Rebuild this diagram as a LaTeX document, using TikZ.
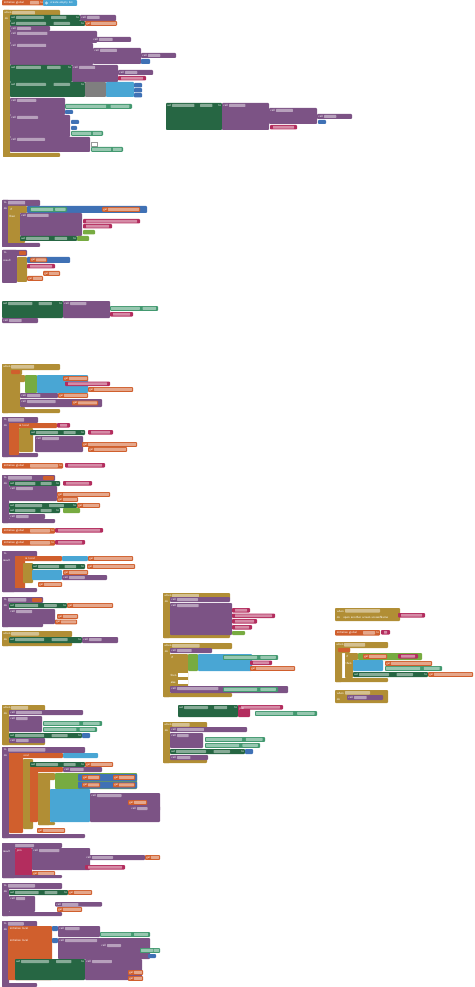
\documentclass[tikz,border=0pt]{standalone}
\usetikzlibrary{positioning}
\definecolor{cevt}{HTML}{B18E35}
\definecolor{cprc}{HTML}{7C5385}
\definecolor{cset}{HTML}{266643}
\definecolor{ccmp}{HTML}{439970}
\definecolor{cvar}{HTML}{D05F2D}
\definecolor{ctxt}{HTML}{B32D5E}
\definecolor{clst}{HTML}{49A6D4}
\definecolor{cmth}{HTML}{3F71B5}
\definecolor{clgc}{HTML}{77AB41}
\definecolor{cgry}{HTML}{7F7F7F}
\tikzset{
  every picture/.style={font=\sffamily},
  evt/.style={fill=cevt, rounded corners=0.6},
  prc/.style={fill=cprc, rounded corners=0.6},
  stt/.style={fill=cset, rounded corners=0.6},
  cmp/.style={fill=ccmp, rounded corners=0.6},
  vr/.style={fill=cvar, rounded corners=0.6},
  txt/.style={fill=ctxt, rounded corners=0.6},
  lst/.style={fill=clst, rounded corners=0.6},
  mth/.style={fill=cmth, rounded corners=0.6},
  lgc/.style={fill=clgc, rounded corners=0.6},
  gry/.style={fill=cgry, rounded corners=0.6},
  fld/.style={fill=white, fill opacity=0.45, rounded corners=0.4},
  kwd/.style={text=white, font=\fontsize{2.3}{2.5}\selectfont\sffamily, inner sep=0pt, anchor=west},
}
\newcounter{kwc}
\newcommand\kw[3]{\stepcounter{kwc}\node[kwd] (kw\arabic{kwc}) at (#1,#2) {#3};}
\newcommand\bk[5]{\fill[#1] (#2,#3) rectangle ++(#4,#5);}
% when ... do
\newcommand\evb[4]{%
  \fill[evt] (#1,#2) rectangle ++(#3,6);
  \fill[evt] (#1,#2) rectangle ++(7,#4);
  \fill[evt] (#1,#2+#4-4) rectangle ++(#3,4);
  \fill[fld] (#1+9,#2+1) rectangle ++(0.4*#3,3.5);
  \kw{#1+1.2}{#2+2.8}{when}\kw{#1+1.5}{#2+8.5}{do}}
% to ... do
\newcommand\prb[4]{%
  \fill[prc] (#1,#2) rectangle ++(#3,6);
  \fill[prc] (#1,#2) rectangle ++(7,#4);
  \fill[prc] (#1,#2+#4-4) rectangle ++(#3,4);
  \fill[fld] (#1+6,#2+1) rectangle ++(0.45*#3,3.5);
  \kw{#1+1.5}{#2+2.8}{to}\kw{#1+1.5}{#2+8.5}{do}}
\newcommand\callb[4]{\fill[prc] (#1,#2) rectangle ++(#3,#4);
  \fill[fld] (#1+7,#2+1) rectangle ++(0.35*#3,3);\kw{#1+1.2}{#2+2.6}{call}}
\newcommand\setb[4]{\fill[stt] (#1,#2) rectangle ++(#3,#4);
  \fill[fld] (#1+6,#2+1) rectangle ++(0.4*#3,3);
  \fill[fld] (#1+0.5*#3+6,#2+1) rectangle ++(0.22*#3,3);
  \kw{#1+1.2}{#2+2.6}{set}\kw{#1+#3-4}{#2+2.6}{to}}
\newcommand\getb[3]{\fill[vr] (#1,#2) rectangle ++(#3,4.8);
  \fill[fld] (#1+6,#2+0.9) rectangle ++(#3-7,3);\kw{#1+1}{#2+2.5}{get}}
\newcommand\cmpb[3]{\fill[cmp] (#1,#2) rectangle ++(#3,4.8);
  \fill[fld] (#1+1,#2+0.9) rectangle ++(0.6*#3,3);
  \fill[fld] (#1+0.68*#3,#2+0.9) rectangle ++(0.28*#3,3);}
\newcommand\txtb[3]{\fill[txt] (#1,#2) rectangle ++(#3,4.5);
  \fill[fld] (#1+3,#2+0.8) rectangle ++(#3-6,2.9);}
\newcommand\glb[3]{\fill[vr] (#1,#2) rectangle ++(#3,5.5);
  \kw{#1+1.5}{#2+2.8}{initialize global}
  \fill[fld] (#1+28,#2+1) rectangle ++(#3-33,3.5);\kw{#1+#3-4}{#2+2.8}{to}}

\begin{document}
\begin{tikzpicture}[x=0.75pt, y=-0.75pt]
\useasboundingbox (0,0) rectangle (474,987);

% global list and screen initialize
\glb{2}{0}{42}
\bk{lst}{43}{0}{34}{6} \fill[white, fill opacity=.6] (46.5,3) circle (1.6);
\kw{50}{3}{create empty list}
\evb{3}{10}{57}{147}
\setb{10}{15}{70}{6} \callb{80}{15}{36}{6}
\setb{10}{21}{75}{5} \getb{85}{21}{32}
\callb{10}{26}{40}{5}
\callb{10}{31}{87}{12} \callb{92}{37}{39}{5}
\callb{10}{43}{83}{22} \callb{93}{48}{48}{16} \callb{141}{53}{35}{5} \bk{mth}{141}{59}{9}{5}
\setb{10}{65}{62}{17} \callb{72}{65}{46}{17} \callb{118}{70}{35}{5} \txtb{118}{76}{28}
\setb{10}{82}{75}{15} \bk{gry}{85}{82}{21}{15} \bk{lst}{106}{82}{28}{15}
\foreach \yy in {83,88,93} {\bk{mth}{134}{\yy}{8}{4.5}}
\callb{10}{98}{55}{17} \cmpb{65}{104}{67} \bk{mth}{65}{110}{8}{4}
\callb{10}{115}{60}{22} \bk{mth}{71}{120}{8}{4} \bk{mth}{71}{126}{6}{4} \cmpb{71}{131}{32}
\callb{10}{137}{80}{15} \fill[white, draw=black!40, line width=0.2pt] (91,142) rectangle ++(6,4);
\cmpb{91}{147}{32}
% loose set block
\setb{166}{103}{56}{27} \callb{222}{103}{47}{27} \callb{269}{108}{48}{16}
\callb{317}{114}{35}{5} \bk{mth}{318}{120}{8}{4} \txtb{270}{125}{27}

% procedures, second group
\prb{2}{200}{38}{47}
\bk{evt}{8}{206}{19}{7} \bk{evt}{8}{206}{12}{37} \bk{evt}{8}{240}{17}{3}
\kw{10}{209.5}{if} \kw{9}{216}{then}
\bk{mth}{27}{206}{120}{7} \cmpb{30}{207}{37} \getb{102}{207}{38}
\callb{20}{213}{62}{23} \txtb{83}{219}{57} \txtb{83}{224}{29} \bk{lgc}{83}{230}{12}{4.5}
\setb{20}{236}{57}{5} \bk{lgc}{77}{236}{12}{5}
\bk{prc}{2}{250}{25}{6} \bk{prc}{2}{250}{15}{33} \kw{3.5}{253}{to} \bk{vr}{19}{251}{7}{4}
\kw{3}{260}{result}
\bk{evt}{17}{257}{10}{25} \bk{mth}{27}{257}{43}{6} \getb{30}{257.5}{17}
\txtb{27}{264}{28} \getb{43}{271}{17} \getb{27}{276}{16}
\setb{2}{301}{61}{17} \callb{63}{301}{47}{17} \cmpb{110}{306}{48} \txtb{110}{312}{23}
\callb{2}{318}{36}{5}

% third group
\evb{2}{364}{58}{49} \bk{evt}{2}{369}{20}{6} \bk{vr}{11}{370}{9}{4}
\bk{evt}{8}{375}{17}{7} \bk{evt}{8}{375}{12}{35} \bk{evt}{8}{407}{17}{3}
\bk{lgc}{25}{375}{12}{18} \bk{lst}{37}{375}{51}{18} \getb{63}{376}{25} \txtb{65}{381.5}{45}
\getb{88}{387}{45}
\callb{20}{393}{38}{5} \getb{58}{393}{30} \callb{20}{399}{82}{8} \getb{72}{400.5}{26}
\prb{2}{417}{36}{40}
\bk{vr}{9}{423}{48}{5} \kw{10}{425.6}{initialize local} \txtb{57}{423}{13} \bk{vr}{9}{423}{10}{32}
\bk{evt}{19}{428}{14}{24}
\setb{30}{430}{55}{5} \txtb{88}{430}{25}
\callb{35}{436}{48}{16} \getb{82}{442}{55} \getb{88}{447}{39}
\glb{2}{463}{61} \txtb{65}{463}{40}
\prb{2}{475}{53}{48} \bk{vr}{43}{476}{11}{4}
\setb{9}{481}{51}{5} \txtb{63}{481}{29}
\callb{9}{486}{48}{15} \getb{57}{492}{53} \getb{57}{497}{21}
\setb{9}{503}{68}{5} \getb{77}{503}{23}
\setb{9}{508}{51}{5} \bk{lgc}{63}{508}{17}{5}
\callb{9}{514}{36}{5}

% fourth group
\glb{2}{528}{53} \txtb{55}{528}{48}
\glb{2}{540}{53} \txtb{55}{540}{30}
\bk{prc}{2}{551}{35}{6} \bk{prc}{2}{551}{13}{41} \kw{3.5}{554}{to} \kw{2.5}{560}{result}
\bk{vr}{15}{556}{47}{5} \kw{16}{558.6}{initialize local} \bk{lst}{62}{556}{26}{5} \getb{88}{556}{45}
\bk{vr}{15}{556}{10}{33} \bk{evt}{23}{563}{10}{20}
\setb{32}{564}{53}{5} \getb{87}{564}{48}
\bk{lst}{32}{570}{30}{10} \getb{63}{570}{25} \callb{62}{575}{45}{5}
\getb{38}{582}{24} \bk{prc}{2}{588}{35}{4}
\prb{2}{597}{41}{30} \bk{vr}{32}{598}{10}{4}
\setb{9}{603}{58}{5} \getb{67}{603}{46}
\callb{9}{609}{46}{15} \getb{57}{614}{21} \getb{55}{619.5}{22}
\evb{2}{631}{70}{15} \setb{9}{637}{73}{6} \callb{82}{637}{36}{6}

% fifth group
\evb{2}{705}{43}{40}
\callb{9}{710}{74}{5}
\callb{9}{716}{33}{16} \cmpb{43}{721}{59} \cmpb{43}{727}{54}
\setb{9}{733}{73}{5} \bk{mth}{82}{733}{8}{5}
\callb{9}{738}{36}{5}
\prb{2}{747}{83}{91}
\bk{vr}{9}{753}{54}{5} \kw{10}{755.6}{initialize local} \bk{lst}{63}{753}{35}{5}
\bk{vr}{9}{753}{14}{80} \bk{evt}{23}{759}{10}{70}
\setb{30}{762}{55}{5} \getb{85}{762}{28}
\bk{vr}{30}{767}{33}{5} \callb{63}{767}{39}{5} \bk{vr}{30}{767}{8}{55}
\bk{evt}{38}{773}{17}{7} \bk{evt}{38}{773}{12}{52} \bk{evt}{38}{822}{17}{3}
\bk{lgc}{55}{773}{82}{16} \bk{mth}{78}{774}{59}{7} \getb{82}{775}{18} \getb{113}{775}{22}
\bk{mth}{78}{781.5}{59}{7} \getb{82}{782.5}{18} \getb{113}{782.5}{22}
\bk{lst}{50}{789}{40}{33} \callb{90}{793}{70}{29} \getb{128}{800}{19} \callb{130}{806}{30}{5}
\getb{37}{828}{28}
\bk{prc}{2}{843}{60}{5} \kw{3.5}{845.5}{to} \fill[fld] (9,844) rectangle ++(25,3);
\bk{prc}{2}{843}{13}{35} \kw{2.5}{851}{result}
\bk{txt}{15}{848}{17}{29} \kw{16.5}{851}{join}
\callb{32}{848}{58}{22} \callb{85}{855}{60}{5} \getb{145}{855}{15} \txtb{85}{865}{40}
\getb{32}{871}{23} \bk{prc}{2}{875}{60}{3}
\prb{2}{883}{60}{33} \setb{9}{890}{59}{5} \getb{68}{890}{24}
\callb{9}{896}{26}{16} \callb{55}{902}{47}{4.5} \getb{57}{907}{25}
\prb{2}{921}{35}{66}
\bk{vr}{8}{926}{44}{54} \kw{9.5}{928.6}{initialize local} \kw{9.5}{940.6}{initialize local}
\bk{mth}{52}{926}{6}{5} \callb{58}{926}{42}{11} \cmpb{100}{932}{50}
\bk{mth}{52}{938}{6}{5} \callb{58}{938}{92}{21} \callb{100}{943}{40}{5} \cmpb{140}{948}{20}
\bk{mth}{148}{954}{8}{4}
\setb{15}{959}{70}{21} \callb{85}{959}{57}{21} \getb{128}{970}{15} \getb{128}{976}{15}

% middle column
\evb{163}{593}{67}{45}
\callb{170}{597}{60}{5} \callb{170}{603}{62}{32}
\txtb{232}{608}{18} \txtb{232}{613.5}{43} \txtb{232}{619}{25} \txtb{232}{625}{20}
\bk{lgc}{232}{631}{13}{4}
\evb{163}{643}{69}{54}
\callb{170}{648}{42}{5}
\bk{evt}{170}{654}{18}{34} \fill[white] (178,673) rectangle ++(10,4); \fill[white] (178,680) rectangle ++(10,4);
\kw{171}{657}{if} \kw{170.3}{675}{then} \kw{170.5}{682}{else}
\bk{lgc}{188}{654}{10}{17} \bk{lst}{198}{654}{54}{17} \cmpb{223}{655}{55} \txtb{250}{660.5}{22}
\getb{250}{666}{45}
\callb{170}{686}{118}{7} \cmpb{223}{687}{55}
\setb{178}{705}{60}{12} \bk{txt}{238}{705}{12}{12} \txtb{238}{705}{45} \kw{239}{708.5}{join}
\cmpb{255}{711}{62}
\evb{163}{722}{44}{41}
\callb{170}{727}{77}{5} \callb{170}{733}{33}{15} \cmpb{205}{737}{60} \cmpb{205}{743}{55}
\setb{170}{749}{75}{5} \bk{mth}{245}{749}{8}{5} \callb{170}{755}{38}{5}

% right column
\bk{evt}{335}{608}{65}{13} \kw{336.5}{611}{when} \fill[fld] (345,609) rectangle ++(35,3.5);
\kw{336.5}{617.5}{do} \kw{343}{617.5}{open another screen screenName} \txtb{398}{613}{27}
\glb{335}{630}{45} \txtb{381}{630}{9}
\evb{335}{642}{53}{40} \bk{evt}{335}{647}{15}{6} \bk{vr}{338}{648}{12}{4}
\bk{evt}{345}{653}{13}{7} \bk{evt}{345}{653}{8}{25} \kw{346}{656.5}{if} \kw{345.3}{663}{then}
\bk{lgc}{358}{653}{64}{7} \getb{363}{654}{24} \txtb{398}{654}{20}
\bk{lst}{353}{660}{30}{11} \getb{385}{661}{47} \cmpb{385}{666}{57}
\setb{353}{672}{75}{5} \getb{428}{672}{45}
\bk{evt}{335}{690}{53}{13} \kw{336.5}{693}{when} \fill[fld] (345,691) rectangle ++(25,3.5);
\kw{336.5}{699.5}{do} \callb{347}{695}{36}{5}
\end{tikzpicture}
\end{document}
